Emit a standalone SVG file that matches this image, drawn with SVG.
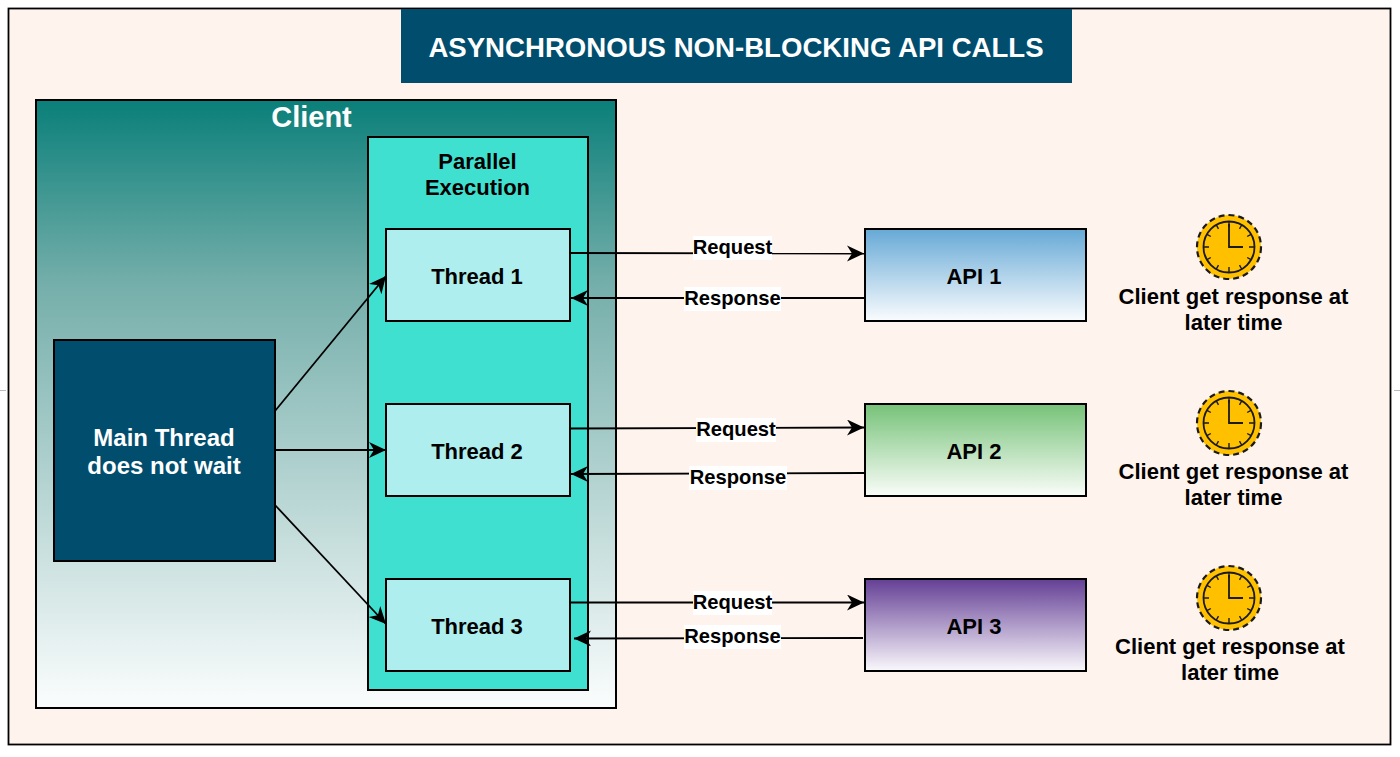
<svg xmlns="http://www.w3.org/2000/svg" xmlns:xlink="http://www.w3.org/1999/xlink" width="1400" height="757" viewBox="0 0 1400 757">
<style>
text{font-family:"Liberation Sans",Arial,sans-serif;font-weight:700;text-anchor:middle;fill:#000}
.t22{font-size:22px}
.lab{font-size:20.2px}
.box{stroke:#000;stroke-width:2}
.thread{fill:#aeeeee}
.c{fill:none;stroke:#000;stroke-width:1.8;marker-end:url(#arr)}
.w{fill:#fff}
.cap{font-size:22px}
</style>
<defs>
<marker id="arr" markerUnits="userSpaceOnUse" markerWidth="20" markerHeight="18" refX="17" refY="8" orient="auto">
<path d="M0 0L17 8L0 16L5 8Z" fill="#000"/>
</marker>
<linearGradient id="gc" x1="0" y1="0" x2="0" y2="1"><stop offset="0" stop-color="#0a7f79"/><stop offset="0.3" stop-color="#74aeaa"/><stop offset="1" stop-color="#fbfdfd"/></linearGradient>
<linearGradient id="g1" x1="0" y1="0" x2="0" y2="1"><stop offset="0" stop-color="#66a9d6"/><stop offset="1" stop-color="#fafcfe"/></linearGradient>
<linearGradient id="g2" x1="0" y1="0" x2="0" y2="1"><stop offset="0" stop-color="#76c278"/><stop offset="1" stop-color="#fafdf9"/></linearGradient>
<linearGradient id="g3" x1="0" y1="0" x2="0" y2="1"><stop offset="0" stop-color="#643f95"/><stop offset="1" stop-color="#faf8fc"/></linearGradient>
<g id="clock">
<circle r="32" fill="#ffc000" stroke="#1a1a1a" stroke-width="2.2" stroke-dasharray="6 4"/>
<circle r="25.500" fill="none" stroke="#1a1a1a" stroke-width="1.800"/>
<path d="M0-25V-20M12.700-22L10.500-18.200M22-12.700L18.200-10.500M25 0H20M22 12.700L18.200 10.500M12.700 22L10.500 18.200M0 25V20M-12.700 22L-10.500 18.200M-22 12.700L-18.200 10.500M-25 0H-20M-22-12.700L-18.200-10.500M-12.700-22L-10.500-18.200" stroke="#1a1a1a" stroke-width="1.400" fill="none"/>
<path d="M0-23V0H14" fill="none" stroke="#1a1a1a" stroke-width="1.800"/>
</g>
</defs>
<rect width="1400" height="757" fill="#fff"/>
<path d="M0 390.500H6M1394 390.500H1400" stroke="#bbb" stroke-width="1"/>
<rect id="frame" x="8.500" y="8.500" width="1382" height="736" fill="#fff3ed" stroke="#000" stroke-width="1.800"/>
<g id="title"><rect x="401" y="9" width="671" height="74" fill="#004d6e"/><text x="736" y="57" font-size="27.600" style="fill:#fff">ASYNCHRONOUS NON-BLOCKING API CALLS</text></g>
<g id="client"><rect class="box" x="36" y="100" width="580" height="608" fill="url(#gc)"/><text x="311.500" y="127" font-size="29" style="fill:#fff">Client</text></g>
<g id="parallel"><rect class="box" x="368" y="137" width="220" height="553" fill="#40e0d0"/><text class="t22" x="477.500" y="169">Parallel</text><text class="t22" x="477.500" y="195">Execution</text></g>
<g id="main"><rect class="box" x="54" y="340" width="221" height="221" fill="#004d6e"/><text x="164" y="446" font-size="24" style="fill:#fff">Main Thread</text><text x="164" y="474" font-size="24" style="fill:#fff">does not wait</text></g>
<g id="thread1"><rect class="box thread" x="386" y="229" width="184" height="92"/><text class="t22" x="477" y="283.500">Thread 1</text></g>
<g id="thread2"><rect class="box thread" x="386" y="404" width="184" height="92"/><text class="t22" x="477" y="458.500">Thread 2</text></g>
<g id="thread3"><rect class="box thread" x="386" y="579" width="184" height="92"/><text class="t22" x="477" y="633.500">Thread 3</text></g>
<g id="api1"><rect class="box" x="865" y="229" width="221" height="92" fill="url(#g1)"/><text class="t22" x="974" y="283.500">API 1</text></g>
<g id="api2"><rect class="box" x="865" y="404" width="221" height="92" fill="url(#g2)"/><text class="t22" x="974" y="458.500">API 2</text></g>
<g id="api3"><rect class="box" x="865" y="579" width="221" height="92" fill="url(#g3)"/><text class="t22" x="974" y="633.500">API 3</text></g>
<g id="connectors">
<path class="c" d="M275 411L386 276"/>
<path class="c" d="M275 450H386"/>
<path class="c" d="M275 505L386 624"/>
<path class="c" d="M570 253L864 253.500"/>
<path class="c" d="M864 298H571"/>
<path class="c" d="M570 428.500L864 427.500"/>
<path class="c" d="M864 473L571 474"/>
<path class="c" d="M570 602.500H864"/>
<path class="c" d="M863 638L574 638.500"/>
<rect class="w" x="693" y="236" width="79" height="24"/><text class="lab" x="732.500" y="254">Request</text>
<rect class="w" x="684" y="287" width="97" height="24"/><text class="lab" x="732.500" y="305">Response</text>
<rect class="w" x="696" y="418" width="80" height="24"/><text class="lab" x="736" y="436">Request</text>
<rect class="w" x="689" y="466" width="98" height="24"/><text class="lab" x="738" y="484">Response</text>
<rect class="w" x="693" y="591" width="79" height="24"/><text class="lab" x="732.500" y="609">Request</text>
<rect class="w" x="684" y="625" width="97" height="24"/><text class="lab" x="732.500" y="643">Response</text>
</g>
<g id="wait1"><use href="#clock" x="1229" y="247"/><text class="cap" x="1233.500" y="304">Client get response at</text><text class="cap" x="1233.500" y="329.500">later time</text></g>
<g id="wait2"><use href="#clock" x="1229" y="423"/><text class="cap" x="1233.500" y="479">Client get response at</text><text class="cap" x="1233.500" y="504.500">later time</text></g>
<g id="wait3"><use href="#clock" x="1229" y="598"/><text class="cap" x="1230" y="654">Client get response at</text><text class="cap" x="1230" y="679.500">later time</text></g>
</svg>
